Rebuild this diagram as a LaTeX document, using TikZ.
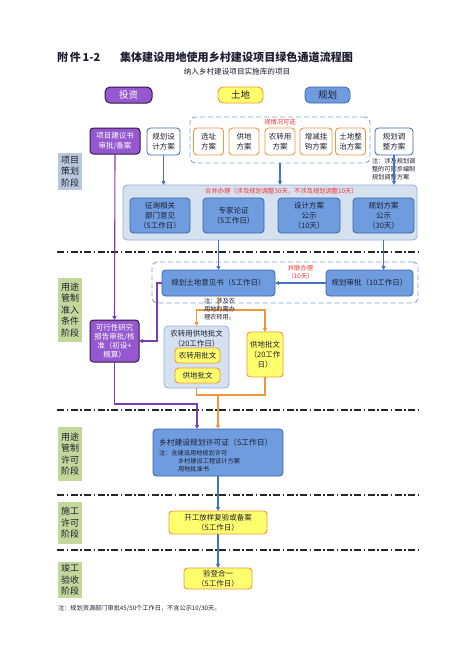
\documentclass[tikz,border=0pt]{standalone}
\usepackage{fontspec}
\setmainfont{Noto Sans CJK SC}
\usetikzlibrary{arrows.meta}
\definecolor{purpfill}{RGB}{150,88,206}
\definecolor{purpdark}{RGB}{55,22,75}
\definecolor{purpline}{RGB}{122,62,182}
\definecolor{yelfill}{RGB}{255,255,110}
\definecolor{orgline}{RGB}{240,150,60}
\definecolor{bluefill}{RGB}{110,156,222}
\definecolor{bluedark}{RGB}{60,100,175}
\definecolor{blueline}{RGB}{70,115,196}
\definecolor{contfill}{RGB}{214,225,240}
\definecolor{contline}{RGB}{150,175,215}
\definecolor{dashblue}{RGB}{125,160,215}
\definecolor{stagegrey}{RGB}{184,200,220}
\definecolor{stagegreen}{RGB}{196,215,155}
\definecolor{redtxt}{RGB}{250,50,50}
\definecolor{darktxt}{RGB}{30,30,50}
\begin{document}
\begin{tikzpicture}[x=1pt,y=-1pt,
  every node/.style={inner sep=0pt,outer sep=0pt,align=center,text=darktxt},
  boxfont/.style={font=\fontsize{7.5}{9.8}\selectfont},
  purpbox/.style={boxfont,fill=purpfill,draw=purpdark,line width=1pt,rounded corners=3.5pt,text=white},
  bluebox/.style={boxfont,fill=bluefill,draw=bluedark,line width=0.8pt,rounded corners=3.5pt},
  yelbox/.style={boxfont,fill=yelfill,draw=orgline,line width=0.9pt,rounded corners=3.5pt},
  optbox/.style={boxfont,fill=white,draw=orgline,line width=0.9pt,rounded corners=3.5pt},
  planbox/.style={boxfont,fill=white,draw=bluedark,line width=0.8pt,rounded corners=3.5pt},
  contbox/.style={fill=contfill,draw=contline,line width=0.8pt,rounded corners=4pt},
  dashbox/.style={draw=dashblue,line width=0.9pt,dash pattern=on 5pt off 3pt,rounded corners=5pt},
  legbox/.style={font=\fontsize{9.5}{11}\selectfont,minimum height=16pt,rounded corners=5pt},
  stagelbl/.style={font=\fontsize{9}{11.5}\selectfont,minimum width=24pt},
  notefont/.style={font=\fontsize{6.2}{8}\selectfont},
  redlbl/.style={font=\fontsize{6.3}{8}\selectfont,text=redtxt},
  arr/.style={-{Triangle[length=4pt,width=4pt]}},
  pline/.style={draw=purpline,line width=1.1pt},
  oline/.style={draw=orgline,line width=1.1pt},
  bline/.style={draw=blueline,line width=1.1pt},
  sepline/.style={draw=black!85,line width=1.2pt,dash pattern=on 7pt off 2.5pt on 1.5pt off 2.5pt}
]
\useasboundingbox[fill=white] (0,0) rectangle (474,670);

% title
\node[anchor=west,font=\fontsize{11}{13}\selectfont\bfseries] (t1) at (57,57) {附\,件\,1-2};
\node[anchor=west,font=\fontsize{11.1}{13}\selectfont\bfseries] (t2) at (120,57) {集体建设用地使用乡村建设项目绿色通道流程图};
\node[font=\fontsize{7.6}{9}\selectfont] (st) at (237,72) {纳入乡村建设项目实施库的项目};

% legend
\node[purpbox,legbox,minimum width=47pt] (lg1) at (128.5,95) {投资};
\node[yelbox,legbox,minimum width=45pt] (lg2) at (240.5,95) {土地};
\node[bluebox,legbox,minimum width=45pt] (lg3) at (327.5,95) {规划};

% separators
\draw[sepline] (57,252) -- (420,252);
\draw[sepline] (57,410) -- (420,410);
\draw[sepline] (57,495) -- (420,495);
\draw[sepline] (57,550) -- (420,550);

% stage labels
\node[stagelbl,fill=stagegrey,minimum height=37pt] (s1) at (70,171.5) {项目\\策划\\阶段};
\node[stagelbl,fill=stagegreen,minimum height=64pt] (s2) at (70,310) {用途\\管制\\准入\\条件\\阶段};
\node[stagelbl,fill=stagegreen,minimum height=54pt] (s3) at (70,454) {用途\\管制\\许可\\阶段};
\node[stagelbl,fill=stagegreen,minimum height=42pt] (s4) at (70,523) {施工\\许可\\阶段};
\node[stagelbl,fill=stagegreen,minimum height=36pt] (s5) at (70,580) {竣工\\验收\\阶段};

% row 1
\node[purpbox,minimum width=50pt,minimum height=26pt] (jys) at (115,141) {项目建议书\\审批/备案};
\node[planbox,minimum width=33pt,minimum height=27pt] (ghsj) at (163.5,141.5) {规划设\\计方案};
\node[dashbox,minimum width=180pt,minimum height=46pt] (opt) at (280,140) {};
\node[redlbl] (optl) at (280,122) {视情况可选};
\node[optbox,minimum width=30pt,minimum height=27pt] (o1) at (208.5,141.5) {选址\\方案};
\node[optbox,minimum width=30pt,minimum height=27pt] (o2) at (244,141.5) {供地\\方案};
\node[optbox,minimum width=30pt,minimum height=27pt] (o3) at (280,141.5) {农转用\\方案};
\node[optbox,minimum width=32pt,minimum height=27pt] (o4) at (316,141.5) {增减挂\\钩方案};
\node[optbox,minimum width=30pt,minimum height=27pt] (o5) at (350.5,141.5) {土地整\\治方案};
\node[planbox,minimum width=38pt,minimum height=27pt] (ghtz) at (394,141.5) {规划调\\整方案};
\node[notefont,anchor=north west,align=left] (n1) at (372,158) {注：涉及规划调\\整的可同步编制\\规划调整方案};

% big container
\node[contbox,minimum width=294pt,minimum height=55pt] (big) at (270,212.5) {};
\node[redlbl] (bigl) at (281.5,191) {合并办理（涉及规划调整30天，不涉及规划调整10天）};
\node[bluebox,minimum width=60pt,minimum height=35pt] (zx) at (160,215.5) {征询相关\\部门意见\\（5工作日）};
\node[bluebox,minimum width=61pt,minimum height=35pt] (zj) at (233.5,215.5) {专家论证\\（5工作日）};
\node[bluebox,minimum width=62pt,minimum height=35pt] (sjgs) at (309,215.5) {设计方案\\公示\\（10天）};
\node[bluebox,minimum width=61pt,minimum height=35pt] (ghgs) at (383.5,215.5) {规划方案\\公示\\（30天）};

% row 2
\node[dashbox,minimum width=266pt,minimum height=41pt] (dbox2) at (285,282.5) {};
\node[bluebox,minimum width=113pt,minimum height=26pt] (tdyj) at (218.5,283) {规划土地意见书（5工作日）};
\node[bluebox,minimum width=87pt,minimum height=26pt] (ghsp) at (369.5,283) {规划审批（10工作日）};
\node[redlbl] (bl) at (300.5,272.5) {并联办理\\（10天）};
\node[purpbox,minimum width=49pt,minimum height=42pt,font=\fontsize{7.5}{9}\selectfont] (kxx) at (114.5,341) {可行性研究\\报告审批/核\\准（初设+\\概算）};

\node[contbox,minimum width=65pt,minimum height=62pt] (nzy) at (196.5,357) {};
\node[boxfont] (nzyt) at (196.5,339) {农转用供地批文\\（20工作日）};
\node[yelbox,minimum width=45pt,minimum height=15pt] (nzpw) at (197.5,355.5) {农转用批文};
\node[yelbox,minimum width=45pt,minimum height=15pt] (gdpw1) at (197.5,375.5) {供地批文};
\node[yelbox,minimum width=36pt,minimum height=45pt] (gdpw2) at (265,354.5) {供地批文\\（20工作\\日）};

% row 3-5
\node[bluebox,minimum width=130pt,minimum height=47pt] (xk) at (218,452.5) {};
\node[anchor=west,font=\fontsize{7.8}{9}\selectfont] (xkt1) at (159,443) {乡村建设规划许可证（5工作日）};
\node[anchor=west,notefont] (xkt2) at (159,453) {注：含建设用地规划许可};
\node[anchor=west,notefont] (xkt3) at (178,461) {乡村建设工程设计方案};
\node[anchor=west,notefont] (xkt4) at (178,469) {用地批准书};

\node[yelbox,minimum width=98pt,minimum height=23pt] (kg) at (218,522.5) {开工放样复验或备案\\（5工作日）};
\node[yelbox,minimum width=68pt,minimum height=21pt] (yd) at (218,578.5) {验登合一\\（5工作日）};

\node[anchor=west,notefont] (foot) at (58,608) {注：规划资源部门审批45/50个工作日，不含公示10/30天。};

% connectors
\draw[pline,arr] (jys.south) -- (kxx.north);
\draw[bline,arr] (ghsj.south) -- (ghsj.south |- big.north);
\draw[bline,arr] (opt.south) -- (opt.south |- big.north);
\draw[bline,arr] (ghtz.south) -- (ghtz.south |- big.north);
\draw[bline,arr] (big.south -| tdyj.north) -- (tdyj.north);
\draw[bline,arr] (big.south -| ghgs.south) -- (ghgs.south |- ghsp.north);
\draw[bline,arr] (ghsp.west) -- (tdyj.east);
\coordinate (pl1) at (157,283);
\draw[pline,arr] (tdyj.west) -- (pl1) |- (kxx.east);

\coordinate (osplit) at (218.5,310);
\draw[oline] (tdyj.south) -- (osplit);
\draw[oline,arr] (osplit) -| (nzy.north);
\draw[oline,arr] (osplit) -| (gdpw2.north);
\node[notefont,anchor=north west,align=left] (n2) at (204,298.5) {注：涉及农\\用地的需办\\理农转用。};

\coordinate (omerge) at (218,395);
\draw[oline] (nzy.south) |- (omerge);
\draw[oline] (gdpw2.south) |- (omerge);
\draw[oline,arr] (omerge) -- (omerge |- xk.north);
\coordinate (pturn) at (197,404);
\draw[pline,arr] (kxx.south) |- (pturn) -- (pturn |- xk.north);

\draw[bline,arr] (xk.south) -- (kg.north);
\draw[bline,arr] (kg.south) -- (yd.north);
\end{tikzpicture}
\end{document}
